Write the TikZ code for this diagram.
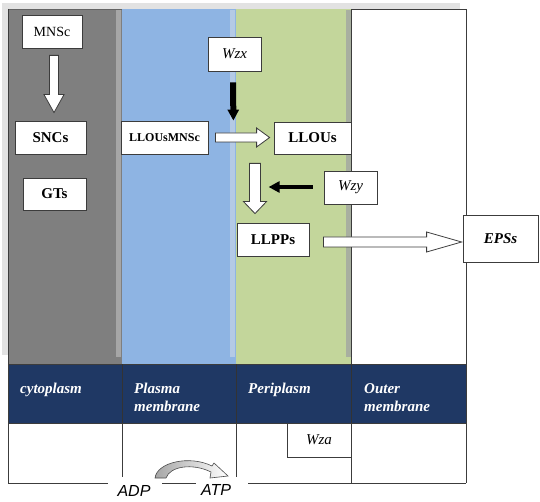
\documentclass[tikz,border=0pt]{standalone}
\usepackage{fontspec}
\setmainfont{Liberation Serif}
\newfontfamily\arialfont{Liberation Sans}
\usetikzlibrary{arrows.meta,calc}
\definecolor{panelgray}{HTML}{7F7F7F}
\definecolor{stripgray}{HTML}{A6A6A6}
\definecolor{panelblue}{HTML}{8EB4E3}
\definecolor{stripblue}{HTML}{B4CAE6}
\definecolor{panelgreen}{HTML}{C3D69B}
\definecolor{stripgreen}{HTML}{A8AFA0}
\definecolor{bandnavy}{HTML}{1F3864}
\definecolor{framelight}{HTML}{E2E2E2}
\definecolor{edge}{HTML}{3C3C3C}
\tikzset{
  box/.style={draw=edge, line width=0.8pt, fill=white, inner sep=0pt, rectangle},
  bold15/.style={font=\fontsize{15}{18}\selectfont\bfseries},
  wlabel/.style={font=\fontsize{15}{18}\selectfont\itshape},
  bandlabel/.style={text=white, font=\fontsize{15}{18}\selectfont\bfseries\itshape, inner sep=0pt, align=left},
  blockarrow/.style={draw=edge, line width=0.8pt, fill=white, line join=miter},
  blackarrow/.style={draw=black, -{Triangle[length=11pt,width=11pt]}},
  gridline/.style={draw=edge, line width=0.9pt}
}
\newcommand{\rblock}[5]{%
  \draw[blockarrow] ($(#1)+(0,-#3)$) -- ($(#2)+(-#5,-#3)$) -- ($(#2)+(-#5,-#4)$) -- (#2)
    -- ($(#2)+(-#5,#4)$) -- ($(#2)+(-#5,#3)$) -- ($(#1)+(0,#3)$) -- cycle;}
\newcommand{\dblock}[5]{%
  \draw[blockarrow] ($(#1)+(-#3,0)$) -- ($(#2)+(-#3,-#5)$) -- ($(#2)+(-#4,-#5)$) -- (#2)
    -- ($(#2)+(#4,-#5)$) -- ($(#2)+(#3,-#5)$) -- ($(#1)+(#3,0)$) -- cycle;}
\begin{document}
\begin{tikzpicture}[x=1pt,y=-1pt]
\useasboundingbox (0,0) rectangle (540,502);
% light frame
\fill[framelight] (2,3) rectangle (460,9);
\fill[framelight] (2,3) rectangle (8,355);
% panels
\fill[panelgray] (8,9) rectangle (122,364);
\fill[stripgray] (116,10) rectangle (121,357);
\fill[panelblue] (122,9) rectangle (236,364);
\fill[stripblue] (230,10) rectangle (235,357);
\fill[panelgreen] (236,9) rectangle (351,364);
\fill[stripgreen] (346,10) rectangle (351,357);
\draw[gridline] (351,9) rectangle (466,364);
\draw[draw=edge!80, line width=0.8pt] (8,9) -- (122,9);
\draw[gridline] (8,9) -- (8,364);
% navy band
\fill[bandnavy] (8,364) rectangle (466,423);
\draw[gridline] (8,364) rectangle (466,423);
\draw[draw=black!80, line width=0.8pt] (122,364) -- (122,423) (236,364) -- (236,423) (351,364) -- (351,423);
% bottom cells
\draw[gridline] (8,423) -- (8,483) (122,423) -- (122,477) (236,423) -- (236,477)
  (351,423) -- (351,483) (466,423) -- (466,483);
\draw[gridline] (8,483) -- (108,483) (162,483) -- (196,483) (248,483) -- (466,483);
% band labels
\node[bandlabel, anchor=north west] (lcyto) at (20,383) {cytoplasm};
\node[bandlabel, anchor=north west] (lplasma) at (134,383) {Plasma\\membrane};
\node[bandlabel, anchor=north west] (lperi) at (248,383) {Periplasm};
\node[bandlabel, anchor=north west] (louter) at (364,383) {Outer\\membrane};
% boxes
\node[box, minimum width=60pt, minimum height=33pt, font=\fontsize{14}{16}\selectfont] (mnsc) at (52,31.5) {MNSc};
\node[box, bold15, minimum width=71pt, minimum height=33pt] (snc) at (50.5,137.5) {SNCs};
\node[box, bold15, minimum width=63pt, minimum height=32pt] (gts) at (54.5,194) {GTs};
\node[box, minimum width=87pt, minimum height=33pt, font=\fontsize{12}{14}\selectfont\bfseries] (llousmnsc) at (164.5,137.5) {LLOUsMNSc};
\node[box, wlabel, minimum width=53pt, minimum height=34pt] (wzx) at (234.5,54) {Wzx};
\node[box, bold15, minimum width=77pt, minimum height=32pt] (llous) at (312.5,138) {LLOUs};
\node[box, wlabel, minimum width=53pt, minimum height=33pt] (wzy) at (350.5,187.5) {Wzy};
\node[box, bold15, minimum width=72pt, minimum height=33pt] (llpps) at (273,239.5) {LLPPs};
\node[box, minimum width=75pt, minimum height=47pt, font=\fontsize{15}{18}\selectfont\bfseries\itshape] (eps) at (500.5,238.5) {EPSs};
\node[box, wlabel, minimum width=64pt, minimum height=34pt] (wza) at (319,440) {Wza};
% white block arrows
\coordinate (a1s) at ($(mnsc.south)+(2,7)$);
\coordinate (a1e) at ($(snc.north)+(3.5,-8)$);
\dblock{a1s}{a1e}{4.5}{10}{18}
\coordinate (a2s) at ($(llousmnsc.east)+(7,0)$);
\coordinate (a2e) at ($(llous.west)+(-4,-0.5)$);
\rblock{a2s}{a2e}{4.5}{9.5}{13}
\coordinate (a3s) at ($(llous.south)+(-57.5,9)$);
\coordinate (a3e) at ($(llpps.north)+(-18,-9)$);
\dblock{a3s}{a3e}{5.5}{11.5}{12}
\coordinate (a4s) at ($(llpps.east)+(14,2.5)$);
\coordinate (a4e) at ($(eps.west)+(-1,3.5)$);
\rblock{a4s}{a4e}{5}{10}{35}
% black arrows
\coordinate (b1s) at ($(wzx.south)+(-1.5,11)$);
\coordinate (b1e) at ($(llousmnsc.north east)+(25,0)$);
\draw[blackarrow, line width=6pt] (b1s) -- (b1e);
\coordinate (b2s) at ($(wzy.west)+(-11,-0.5)$);
\coordinate (b2e) at ($(wzy.west)+(-55,-0.5)$);
\draw[blackarrow, line width=4.5pt] (b2s) -- (b2e);
% ADP / ATP
\node[font=\fontsize{16}{18}\selectfont\arialfont\itshape, inner sep=0pt] (adp) at (134,491) {ADP};
\node[font=\fontsize{16}{18}\selectfont\arialfont\itshape, inner sep=0pt] (atp) at (216,490) {ATP};
\draw[draw=black!70, line width=0.6pt, left color=black!35, right color=white]
  (155,478) .. controls (157,462) and (190,455) .. (212,466)
  -- (214,463) -- (228,476) -- (210,478) -- (211,472)
  .. controls (193,463) and (170,466) .. (166,478) -- cycle;
\end{tikzpicture}
\end{document}
